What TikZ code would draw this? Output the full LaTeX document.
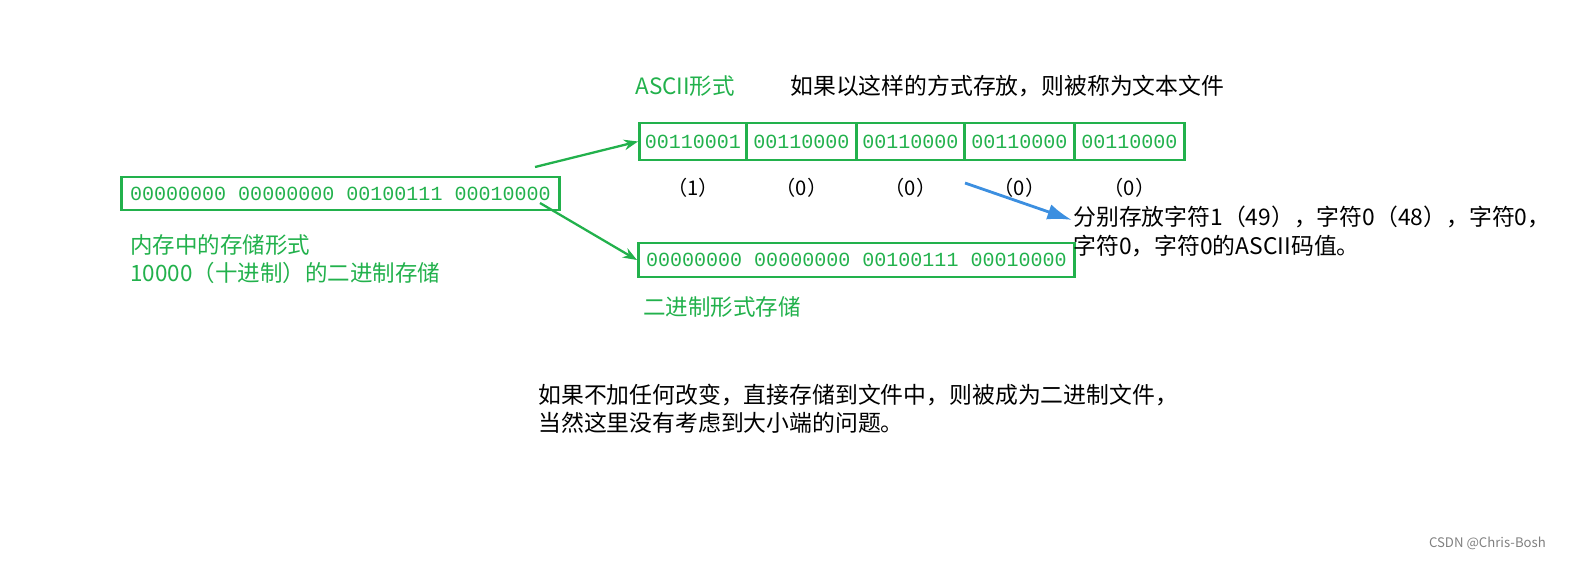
\documentclass[tikz,border=0pt]{standalone}
\usepackage{fontspec}
\setmainfont{Noto Sans CJK SC}
\setmonofont{Liberation Mono}
\newfontfamily\cjk{Noto Sans CJK SC}
\usetikzlibrary{arrows.meta}
\definecolor{gr}{HTML}{22B14C}
\definecolor{bl}{HTML}{3C8FE0}
\tikzset{
  px/.style={x=0.02cm,y=-0.02cm},
  bitbox/.style={draw=gr,line width=1.6pt,text=gr,font=\ttfamily\fontsize{11.4}{14}\selectfont,inner sep=0pt,anchor=west},
  glabel/.style={text=gr,font=\cjk\fontsize{12.8}{15}\selectfont,anchor=west,inner sep=0pt},
  blabel/.style={text=black,font=\cjk\fontsize{13}{16}\selectfont,anchor=west,inner sep=0pt},
  garrow/.style={draw=gr,line width=1.3pt,-{Stealth[length=8pt,width=6pt]}}
}
\begin{document}
\begin{tikzpicture}[px]
\useasboundingbox (0,0) rectangle (1576,562);
% left box
\node[bitbox,minimum width=438*0.02cm,minimum height=33*0.02cm] (mem) at (120,193.5) {00000000 00000000 00100111 00010000};
\node[glabel] (l1) at (130,245) {内存中的存储形式};
\node[glabel] (l2) at (130,273) {10000（十进制）的二进制存储};
% ascii
\node[glabel] (asc) at (635,86) {ASCII形式};
\node[blabel] (t1) at (790,86) {如果以这样的方式存放，则被称为文本文件};
\foreach \i/\x/\w/\v/\c in {1/638/107/00110001/1,2/745/110/00110000/0,3/855/108/00110000/0,4/963/110/00110000/0,5/1073/110/00110000/0}{
  \node[bitbox,minimum width=\w*0.02cm,minimum height=37*0.02cm] (a\i) at (\x,141.5) {\v};
  \node[font=\cjk\fontsize{11.5}{13}\selectfont,anchor=north] (c\i) at (a\i.south) [yshift=-6pt] {（\c）};
}
% binary box
\node[bitbox,minimum width=436*0.02cm,minimum height=34*0.02cm] (bin) at (637,260) {00000000 00000000 00100111 00010000};
\node[glabel] (bl) at (643,307) {二进制形式存储};
% arrows
\coordinate (s1) at (535,167);
\coordinate (s2) at (540,203);
\draw[garrow] (s1) -- (a1.west);
\draw[garrow] (s2) -- (bin.west);
\coordinate (bs) at (965,183);
\node[blabel,align=left,anchor=north west] (exp) at (1073,206) {分别存放字符1（49），字符0（48），字符0，\\字符0，字符0的ASCII码值。};
\draw[bl,line width=1.6pt,-{Latex[length=14pt,width=9pt]}] (bs) -- (1072,220);
\node[blabel,align=left,anchor=north west] (bt) at (538,384) {如果不加任何改变，直接存储到文件中，则被成为二进制文件，\\当然这里没有考虑到大小端的问题。};
\node[text=gray,font=\cjk\fontsize{7.5}{9}\selectfont,anchor=east] (wm) at (1552,543) {CSDN @Chris-Bosh};
\end{tikzpicture}
\end{document}
